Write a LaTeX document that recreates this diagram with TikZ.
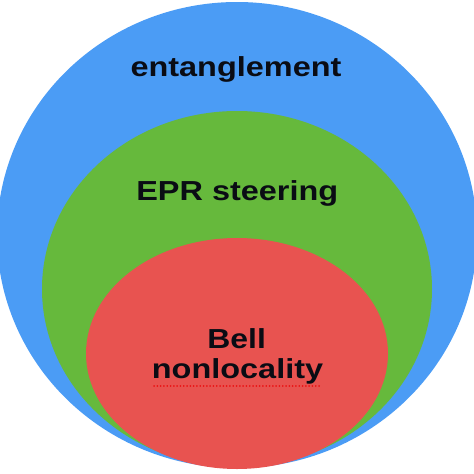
\documentclass[tikz,border=0pt]{standalone}
\usepackage{fontspec}
\setmainfont{Liberation Sans}
\usepackage{graphicx}
\definecolor{setblue}{RGB}{75,156,245}
\definecolor{setgreen}{RGB}{102,185,60}
\definecolor{setred}{RGB}{232,83,80}
\definecolor{inkdark}{RGB}{10,12,20}
\definecolor{spellred}{RGB}{235,20,20}
\begin{document}
\begin{tikzpicture}[x=1pt,y=-1pt,
  lbl/.style={inner sep=0pt, anchor=base, text=inkdark, font=\fontsize{27.5}{30}\selectfont\bfseries},
  squiggle/.style={draw=spellred, line width=1.8pt, line cap=round, dash pattern=on 0.1pt off 3.2pt}]
\useasboundingbox (0,0) rectangle (474,474);
\clip (0,0) rectangle (474,474);
\fill[setblue] (237,235) ellipse [x radius=240, y radius=233];
\fill[setgreen] (237,289) ellipse [x radius=195, y radius=178];
\fill[setred] (237,353.5) ellipse [x radius=151, y radius=115.5];
\node[lbl] (ent) at (236,76) {\scalebox{1.18}[1]{entanglement}};
\node[lbl] (epr) at (237.3,200.7) {\scalebox{1.18}[1]{EPR steering}};
\node[lbl] (bell) at (236.7,348.3) {\scalebox{1.16}[1]{Bell}};
\coordinate (sqa) at (154,386);
\coordinate (sqb) at (322,386);
\draw[squiggle] (sqa) -- (sqb);
\node[lbl] (nonl) at (237.5,378.3) {\scalebox{1.18}[1]{nonlocality}};
\end{tikzpicture}
\end{document}
